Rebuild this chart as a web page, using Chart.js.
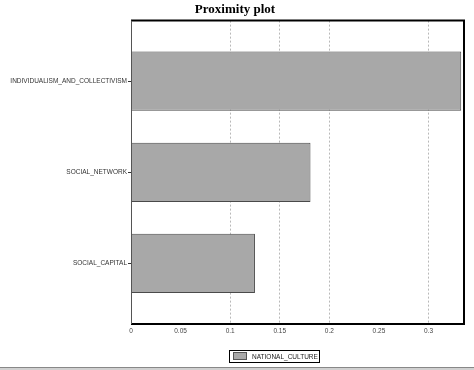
<!DOCTYPE html>
<html>
<head>
<meta charset="utf-8">
<script src="https://cdn.jsdelivr.net/npm/chart.js@4"></script>
<style>
  body { margin: 0; background: #fff; }
</style>
</head>
<body>
<canvas id="myChart" width="474" height="370"></canvas>
<script>
// proximity plot data
var categories = ['INDIVIDUALISM_AND_COLLECTIVISM', 'SOCIAL_NETWORK', 'SOCIAL_CAPITAL'];
var values = [0.333, 0.181, 0.125];
var seriesName = 'NATIONAL_CULTURE';
var xTicks = [0, 0.05, 0.1, 0.15, 0.2, 0.25, 0.3];
var hiddenGrid = [0, 0.05, 0.25];  // no dotted line drawn at these in the original

var points = values.map(function (v, i) { return { x: v, y: i }; });

// frame, legend box and bottom strip
var extras = {
    id: 'extras',
    afterDraw: function (chart) {
        var c = chart.ctx, a = chart.chartArea;
        c.save();
        c.strokeStyle = '#000';
        c.lineWidth = 2;
        c.beginPath();
        c.moveTo(a.left, a.top);
        c.lineTo(a.right, a.top);
        c.lineTo(a.right, a.bottom);
        c.lineTo(a.left, a.bottom);
        c.stroke();
        c.strokeStyle = '#555';
        c.lineWidth = 1;
        c.beginPath();
        c.moveTo(a.left + 0.5, a.top);
        c.lineTo(a.left + 0.5, a.bottom);
        c.stroke();

        // legend
        var ds = chart.data.datasets[0];
        c.fillStyle = '#fff';
        c.fillRect(229, 350, 90, 12);
        c.strokeStyle = '#000';
        c.lineWidth = 1;
        c.strokeRect(229.5, 350.5, 90, 12);
        c.fillStyle = ds.backgroundColor;
        c.fillRect(233, 352, 14, 8);
        c.strokeStyle = '#555';
        c.strokeRect(233.5, 352.5, 13, 7);
        c.fillStyle = '#222';
        c.font = '6.5px "Liberation Sans"';
        c.textBaseline = 'middle';
        c.fillText(ds.label, 252, 357);

        // grey strip at the bottom
        c.fillStyle = '#d0d0d0';
        c.fillRect(0, 367, 474, 3);
        c.fillStyle = '#888';
        c.fillRect(0, 367, 474, 1);
        c.restore();
    }
};

var ctx = document.getElementById('myChart').getContext('2d');
var myChart = new Chart(ctx, {
    type: 'bar',
    data: {
        datasets: [{
            label: seriesName,
            data: points,
            backgroundColor: '#a8a8a8',
            borderColor: '#4a4a4a',
            borderWidth: 1,
            barPercentage: 0.65,
            categoryPercentage: 1
        }]
    },
    options: {
        indexAxis: 'y',
        responsive: false,
        animation: false,
        layout: { padding: { top: 0, right: 10, bottom: 0, left: 6 } },
        plugins: {
            legend: { display: false },
            tooltip: { enabled: false },
            title: {
                display: true,
                text: 'Proximity plot',
                color: '#000',
                font: { family: '"Liberation Serif"', size: 13, weight: 'bold' },
                padding: { top: 2, bottom: 3 }
            }
        },
        scales: {
            x: {
                type: 'linear',
                min: 0,
                max: 0.3358,
                afterBuildTicks: function (scale) {
                    scale.ticks = xTicks.map(function (v) { return { value: v }; });
                },
                afterFit: function (scale) { scale.height = 46; },
                ticks: {
                    color: '#444',
                    font: { family: '"Liberation Sans"', size: 6.5 },
                    padding: 3,
                    maxRotation: 0,
                    autoSkip: false,
                    callback: function (v) { return String(v); }
                },
                grid: {
                    color: function (c) {
                        if (!c.tick) return 'rgba(0,0,0,0)';
                        var v = Math.round(c.tick.value * 100) / 100;
                        return hiddenGrid.indexOf(v) >= 0 ? 'rgba(0,0,0,0)' : '#b8b8b8';
                    },
                    drawTicks: false,
                    lineWidth: 1
                },
                border: { display: false, dash: [2, 2] }
            },
            y: {
                type: 'linear',
                reverse: true,
                offset: false,
                min: -0.665,
                max: 2.665,
                afterBuildTicks: function (scale) {
                    scale.ticks = categories.map(function (c, i) { return { value: i }; });
                },
                afterFit: function (scale) { scale.width = 125; },
                ticks: {
                    color: '#333',
                    font: { family: '"Liberation Sans"', size: 6.5 },
                    padding: 1,
                    autoSkip: false,
                    callback: function (v) { return categories[v]; }
                },
                grid: {
                    offset: false,
                    drawOnChartArea: false,
                    drawTicks: true,
                    tickLength: 3,
                    color: '#333'
                },
                border: { display: false }
            }
        }
    },
    plugins: [extras]
});
</script>
</body>
</html>
